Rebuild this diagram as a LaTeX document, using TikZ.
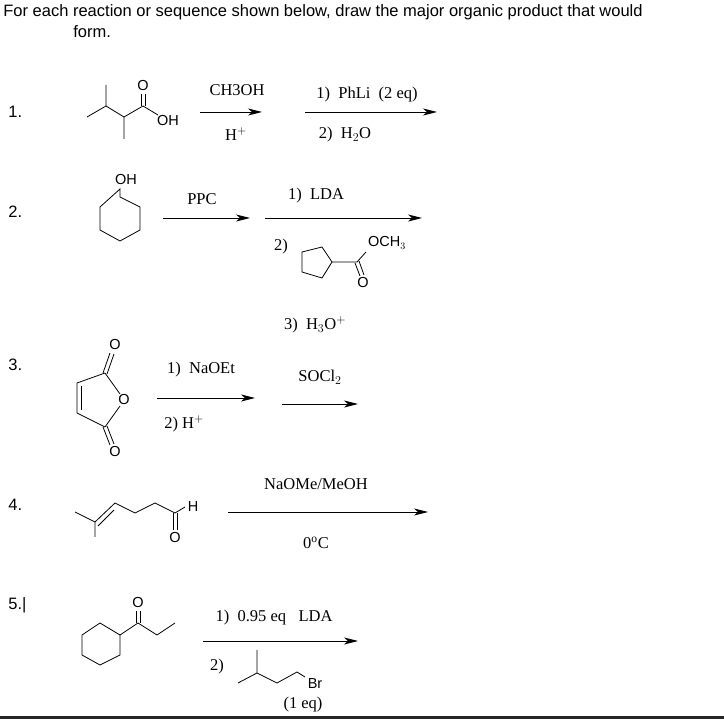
\documentclass[tikz,border=0pt]{standalone}
\usepackage{fontspec}
\setmainfont{Liberation Serif}
\newfontfamily\lsans{Liberation Sans}
\usetikzlibrary{arrows.meta}
\begin{document}
\begin{tikzpicture}[x=1pt,y=-1pt,line width=0.8pt,
 rxn/.style={-{Stealth[length=14pt,width=7pt,inset=4pt]},line width=0.9pt},
 reag/.style={font=\fontsize{16.5}{18}\selectfont,inner sep=0pt},
 atom/.style={font=\lsans\fontsize{14.5}{16}\selectfont,inner sep=1pt},
 hdr/.style={font=\lsans\fontsize{16.5}{19}\selectfont,inner sep=0pt,anchor=west}]
\useasboundingbox (0,0) rectangle (724,719);
\node[hdr] (t1) at (3,12) {For each reaction or sequence shown below, draw the major organic product that would};
\node[hdr] (t2) at (73,32) {form.};
\node[hdr] (n1) at (8,112) {1.};
\node[hdr] (n2) at (8,212) {2.};
\node[hdr] (n3) at (8,365) {3.};
\node[hdr] (n4) at (8,505) {4.};
\node[hdr] (n5) at (8,605) {5.|};
% reaction 1
\draw (106,85)--(106,106)--(87,117) (106,106)--(124,117)--(124,139) (124,117)--(143,106)--(158,115);
\draw (141,106)--(141,94) (145,106)--(145,94);
\node[atom] (o1) at (143,86) {O};
\node[atom] (oh1) at (168,121) {OH};
\coordinate (a1s) at (200,112); \coordinate (a1e) at (262,112);
\draw[rxn] (a1s)--(a1e);
\node[reag] (r1a) at (237,90) {CH3OH};
\node[reag] (r1b) at (236,134) {H$^{+}$};
\coordinate (a2s) at (305,112); \coordinate (a2e) at (437,112);
\draw[rxn] (a2s)--(a2e);
\node[reag] (r1c) at (367,95) {1)\ \ PhLi\ \ (2 eq)};
\node[reag] (r1d) at (345,135) {2)\ \ H$_2$O};
% reaction 2
\node[atom] (oh2) at (126,180) {OH};
\draw (120,189)--(120,197)--(140,207)--(140,230)--(120,241)--(100,230)--(100,207)--cycle;
\coordinate (b1s) at (163,218); \coordinate (b1e) at (250,218);
\draw[rxn] (b1s)--(b1e);
\node[reag] (r2a) at (202,199) {PPC};
\coordinate (b2s) at (265,218); \coordinate (b2e) at (422,218);
\draw[rxn] (b2s)--(b2e);
\node[reag] (r2b) at (316,196) {1)\ \ LDA};
\node[reag] (r2c) at (281,247) {2)};
\draw (302,252)--(322,247)--(332,262)--(322,278)--(302,272)--cycle;
\draw (332,262)--(357,262)--(366,252);
\draw (355,263)--(360,276) (359,261)--(364,275);
\node[atom] (och3) at (387,243) {OCH$_3$};
\node[atom] (o2) at (363,283) {O};
\node[reag] (r2d) at (315,325) {3)\ \ H$_3$O$^{+}$};
% reaction 3
\draw (105,373)--(120,394) (120,406)--(105,427);
\draw (105,373)--(77,383)--(77,413)--(105,427);
\draw (81,386)--(81,410);
\draw (103,373)--(110,353) (107,374)--(114,354);
\draw (103,427)--(110,445) (107,426)--(114,444);
\node[atom] (o3r) at (124,400) {O};
\node[atom] (o3t) at (115,345) {O};
\node[atom] (o3b) at (115,452) {O};
\coordinate (c1s) at (157,398); \coordinate (c1e) at (255,398);
\draw[rxn] (c1s)--(c1e);
\node[reag] (r3a) at (201,370) {1)\ \ NaOEt};
\node[reag] (r3b) at (184,424) {2) H$^{+}$};
\coordinate (c2s) at (282,404); \coordinate (c2e) at (358,404);
\draw[rxn] (c2s)--(c2e);
\node[reag] (r3c) at (320,377) {SOCl$_2$};
% reaction 4
\draw (75,512)--(95,522)--(95,537) (95,522)--(115,503)--(135,513)--(155,503)--(175,513)--(185,507);
\draw (98,526)--(114,510);
\draw (173,513)--(173,530) (177,513)--(177,530);
\node[atom] (h4) at (193,507) {H};
\node[atom] (o4) at (175,538) {O};
\coordinate (d1s) at (228,512); \coordinate (d1e) at (428,512);
\draw[rxn] (d1s)--(d1e);
\node[reag] (r4a) at (316,484) {NaOMe/MeOH};
\node[reag] (r4b) at (316,543) {0$^{\mathrm{o}}$C};
% reaction 5
\draw (100,623)--(120,635)--(120,655)--(100,665)--(82,655)--(82,635)--cycle;
\draw (120,635)--(138,623)--(157,635)--(175,623);
\draw (136,623)--(136,611) (140,623)--(140,611);
\node[atom] (o5) at (138,603) {O};
\coordinate (e1s) at (203,641); \coordinate (e1e) at (358,641);
\draw[rxn] (e1s)--(e1e);
\node[reag] (r5a) at (274,618) {1)\ \ 0.95 eq\ \ \ LDA};
\node[reag] (r5b) at (217,667) {2)};
\draw (238,683)--(257,673)--(257,650) (257,673)--(277,683)--(297,672)--(305,677);
\node[atom] (br) at (315,684) {Br};
\node[reag] (r5c) at (303,705) {(1 eq)};
\draw[line width=3pt,black!85] (0,717.5)--(724,717.5);
\end{tikzpicture}
\end{document}
